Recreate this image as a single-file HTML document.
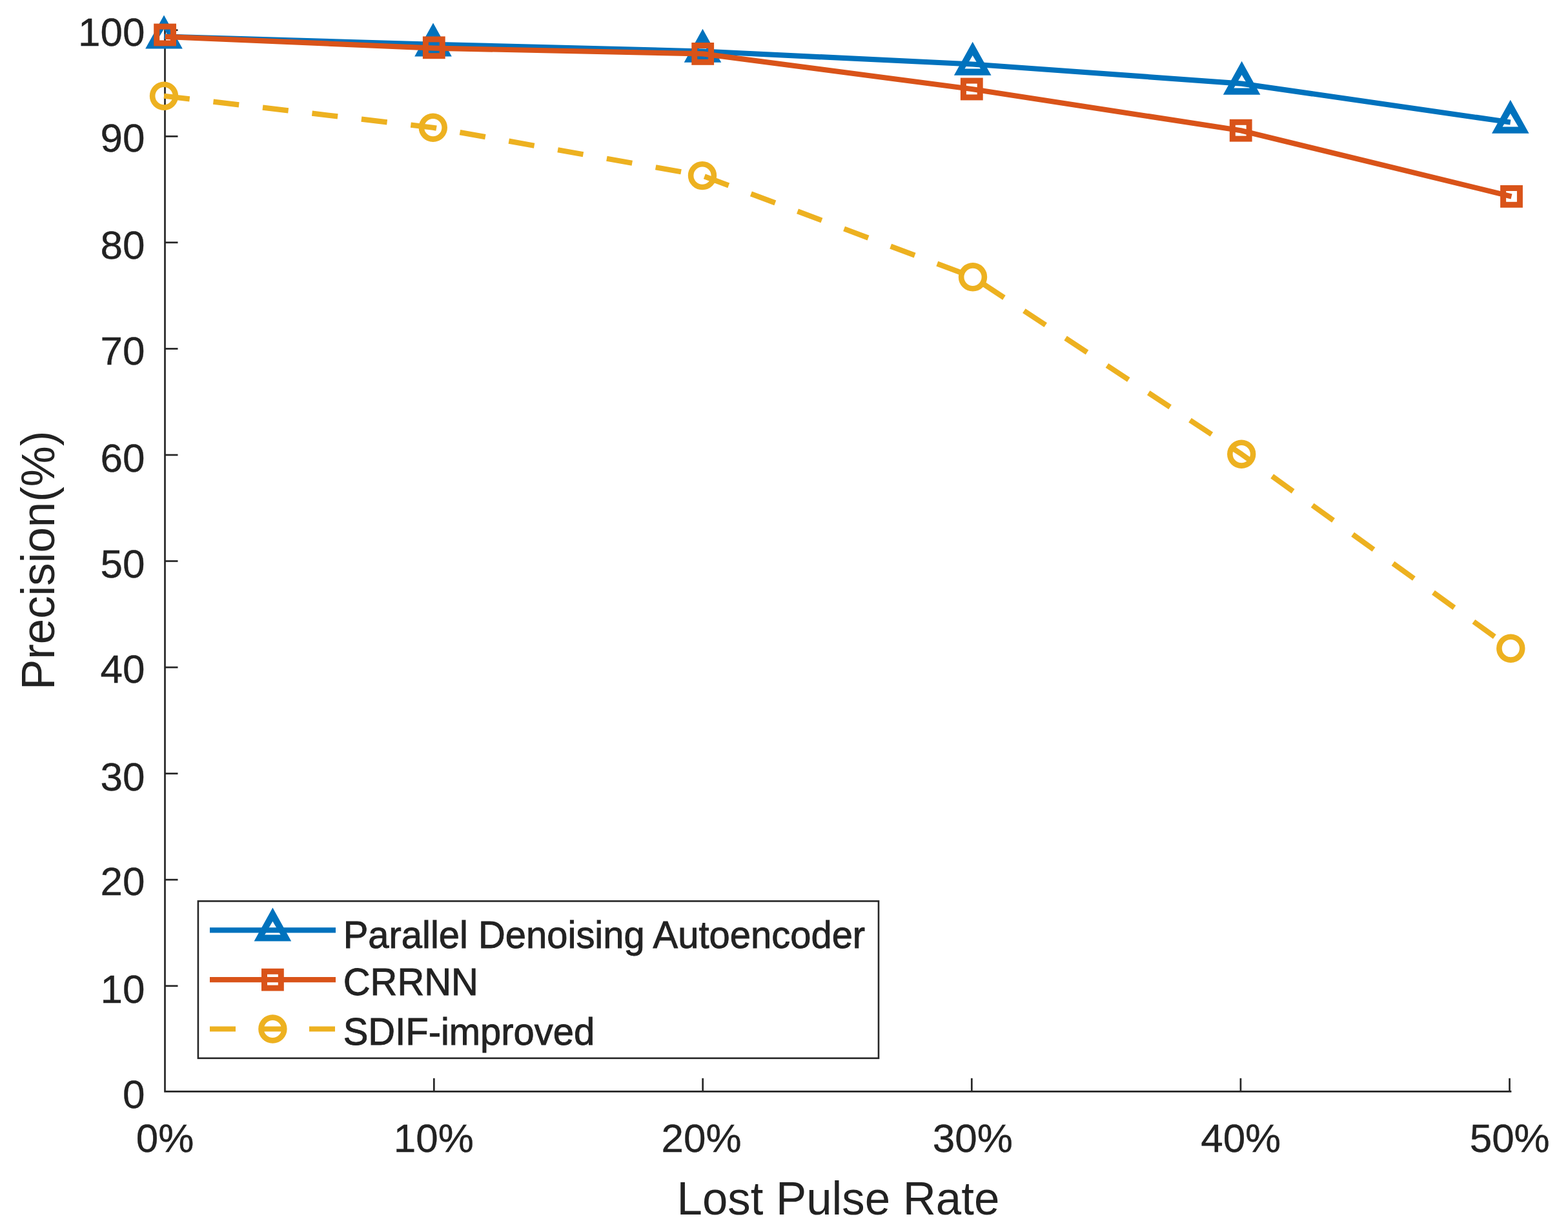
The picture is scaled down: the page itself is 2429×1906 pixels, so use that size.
<!DOCTYPE html>
<html lang="en"><head><meta charset="utf-8"><title>Precision vs Lost Pulse Rate</title><style>html,body{margin:0;padding:0;background:#fff;width:2429px;height:1906px;}svg{display:block;}text{font-family:'Liberation Sans', Arial, Helvetica, sans-serif;fill:#222222;}</style></head><body>
<svg width="2429" height="1906" viewBox="0 0 2429 1906">
<rect width="2429" height="1906" fill="#fff"/>
<g id="axes"><path d="M255.5,46.7 L255.5,1691.3 L2340.0,1691.3" fill="none" stroke="#262626" stroke-width="2.7" stroke-linecap="square"/><path d="M255.5,1527.8 H275.5" stroke="#262626" stroke-width="2.7"/><path d="M255.5,1363.2 H275.5" stroke="#262626" stroke-width="2.7"/><path d="M255.5,1198.7 H275.5" stroke="#262626" stroke-width="2.7"/><path d="M255.5,1034.1 H275.5" stroke="#262626" stroke-width="2.7"/><path d="M255.5,869.5 H275.5" stroke="#262626" stroke-width="2.7"/><path d="M255.5,705.0 H275.5" stroke="#262626" stroke-width="2.7"/><path d="M255.5,540.4 H275.5" stroke="#262626" stroke-width="2.7"/><path d="M255.5,375.8 H275.5" stroke="#262626" stroke-width="2.7"/><path d="M255.5,211.3 H275.5" stroke="#262626" stroke-width="2.7"/><path d="M255.5,46.7 H275.5" stroke="#262626" stroke-width="2.7"/><path d="M672.3,1691.3 V1670.8" stroke="#262626" stroke-width="2.7"/><path d="M1088.7,1691.3 V1670.8" stroke="#262626" stroke-width="2.7"/><path d="M1505.3,1691.3 V1670.8" stroke="#262626" stroke-width="2.7"/><path d="M1921.9,1691.3 V1670.8" stroke="#262626" stroke-width="2.7"/><path d="M2338.5,1691.3 V1670.8" stroke="#262626" stroke-width="2.7"/></g>
<g id="labels"><text transform="translate(224.4,1717.1)" font-size="62" text-anchor="end" stroke="#222222" stroke-width="0.35">0</text><text transform="translate(224.4,1554.1)" font-size="62" text-anchor="end" stroke="#222222" stroke-width="0.35">10</text><text transform="translate(224.4,1387.1)" font-size="62" text-anchor="end" stroke="#222222" stroke-width="0.35">20</text><text transform="translate(224.4,1224.5)" font-size="62" text-anchor="end" stroke="#222222" stroke-width="0.35">30</text><text transform="translate(224.4,1057.5)" font-size="62" text-anchor="end" stroke="#222222" stroke-width="0.35">40</text><text transform="translate(224.4,894.5)" font-size="62" text-anchor="end" stroke="#222222" stroke-width="0.35">50</text><text transform="translate(224.4,731.1)" font-size="62" text-anchor="end" stroke="#222222" stroke-width="0.35">60</text><text transform="translate(224.4,564.6)" font-size="62" text-anchor="end" stroke="#222222" stroke-width="0.35">70</text><text transform="translate(224.4,400.9)" font-size="62" text-anchor="end" stroke="#222222" stroke-width="0.35">80</text><text transform="translate(224.4,234.9)" font-size="62" text-anchor="end" stroke="#222222" stroke-width="0.35">90</text><text transform="translate(224.4,71.3)" font-size="62" text-anchor="end" stroke="#222222" stroke-width="0.35">100</text><text transform="translate(255.5,1784.8)" font-size="62" text-anchor="middle" stroke="#222222" stroke-width="0.35">0%</text><text transform="translate(671.9,1784.8)" font-size="62" text-anchor="middle" stroke="#222222" stroke-width="0.35">10%</text><text transform="translate(1086.5,1784.8)" font-size="62" text-anchor="middle" stroke="#222222" stroke-width="0.35">20%</text><text transform="translate(1506.9,1784.8)" font-size="62" text-anchor="middle" stroke="#222222" stroke-width="0.35">30%</text><text transform="translate(1922.2,1784.8)" font-size="62" text-anchor="middle" stroke="#222222" stroke-width="0.35">40%</text><text transform="translate(2338.7,1784.8)" font-size="62" text-anchor="middle" stroke="#222222" stroke-width="0.35">50%</text><text transform="translate(1298.4,1881.5) scale(1,1.02)" font-size="70.8" text-anchor="middle">Lost Pulse Rate</text><text transform="translate(84.4,868.4) rotate(-90) scale(1,1.02)" font-size="70.8" text-anchor="middle">Precision(%)</text></g>
<g id="s1"><path d="M254.0,56.5 L671.0,68.8 L1088.5,79.5 L1506.7,99.5 L1923.6,129.6 L2339.8,189.5" fill="none" stroke="#0072BD" stroke-width="8.2" stroke-linejoin="round"/><path d="M254.0,23.5 L282.8,75.5 L225.2,75.5 Z M254.0,44.7 L266.2,65.3 L241.8,65.3 Z" fill="#0072BD" fill-rule="evenodd"/><path d="M671.0,35.4 L699.8,87.4 L642.2,87.4 Z M671.0,56.6 L683.2,77.2 L658.8,77.2 Z" fill="#0072BD" fill-rule="evenodd"/><path d="M1088.5,44.7 L1117.3,96.7 L1059.7,96.7 Z M1088.5,65.9 L1100.7,86.5 L1076.3,86.5 Z" fill="#0072BD" fill-rule="evenodd"/><path d="M1506.7,64.7 L1535.5,116.7 L1477.9,116.7 Z M1506.7,85.9 L1518.9,106.5 L1494.5,106.5 Z" fill="#0072BD" fill-rule="evenodd"/><path d="M1923.6,94.8 L1952.4,146.8 L1894.8,146.8 Z M1923.6,116.0 L1935.8,136.6 L1911.4,136.6 Z" fill="#0072BD" fill-rule="evenodd"/><path d="M2339.8,154.7 L2368.6,206.7 L2311.0,206.7 Z M2339.8,175.9 L2352.0,196.5 L2327.6,196.5 Z" fill="#0072BD" fill-rule="evenodd"/></g>
<g id="s2"><path d="M255.6,56.8 L672.3,74.6 L1088.7,83.4 L1505.3,138.0 L1922.2,202.2 L2341.5,304.4" fill="none" stroke="#D95319" stroke-width="8.2" stroke-linejoin="round"/><rect x="242.7" y="41.1" width="25.8" height="25.8" fill="none" stroke="#D95319" stroke-width="9.0"/><rect x="659.4" y="60.9" width="25.8" height="25.8" fill="none" stroke="#D95319" stroke-width="9.0"/><rect x="1075.8" y="70.5" width="25.8" height="25.8" fill="none" stroke="#D95319" stroke-width="9.0"/><rect x="1492.4" y="125.1" width="25.8" height="25.8" fill="none" stroke="#D95319" stroke-width="9.0"/><rect x="1909.3" y="189.3" width="25.8" height="25.8" fill="none" stroke="#D95319" stroke-width="9.0"/><rect x="2328.6" y="291.5" width="25.8" height="25.8" fill="none" stroke="#D95319" stroke-width="9.0"/></g>
<g id="s3"><path d="M254.0,148.7 L670.8,197.7 L1088.0,272.1 L1507.0,429.3 L1923.2,703.7 L2340.3,1004.7" fill="none" stroke="#EDB120" stroke-width="8.2" stroke-linejoin="round" stroke-dasharray="40 37"/><circle cx="254.0" cy="148.7" r="17.9" fill="none" stroke="#EDB120" stroke-width="8.6"/><circle cx="670.8" cy="197.7" r="17.9" fill="none" stroke="#EDB120" stroke-width="8.6"/><circle cx="1088.0" cy="272.1" r="17.9" fill="none" stroke="#EDB120" stroke-width="8.6"/><circle cx="1507.0" cy="429.3" r="17.9" fill="none" stroke="#EDB120" stroke-width="8.6"/><circle cx="1923.2" cy="703.7" r="17.9" fill="none" stroke="#EDB120" stroke-width="8.6"/><circle cx="2340.3" cy="1004.7" r="17.9" fill="none" stroke="#EDB120" stroke-width="8.6"/></g>
<g id="legend"><rect x="306.9" y="1396.4" width="1054.1" height="243.4" fill="#fff" stroke="#262626" stroke-width="2.6"/><path d="M325,1441.4 H520" stroke="#0072BD" stroke-width="8.2"/><path d="M422.4,1406.6 L451.2,1458.6 L393.6,1458.6 Z M422.4,1427.8 L434.6,1448.4 L410.2,1448.4 Z" fill="#0072BD" fill-rule="evenodd"/><path d="M325,1518.2 H520" stroke="#D95319" stroke-width="8.2"/><rect x="409.5" y="1505.3" width="25.8" height="25.8" fill="none" stroke="#D95319" stroke-width="9.0"/><path d="M325,1594.5 H520" stroke="#EDB120" stroke-width="8.2" stroke-dasharray="40 37"/><circle cx="422.4" cy="1594.5" r="17.9" fill="none" stroke="#EDB120" stroke-width="8.6"/><text transform="translate(531.7,1468.6) scale(1,1.015)" font-size="57.95" stroke="#222222" stroke-width="0.9">Parallel Denoising Autoencoder</text><text transform="translate(531.7,1542.0) scale(1,1.015)" font-size="57.95" stroke="#222222" stroke-width="0.9">CRRNN</text><text transform="translate(531.7,1618.9) scale(1,1.015)" font-size="57.95" stroke="#222222" stroke-width="0.9">SDIF-improved</text></g>
</svg></body></html>
